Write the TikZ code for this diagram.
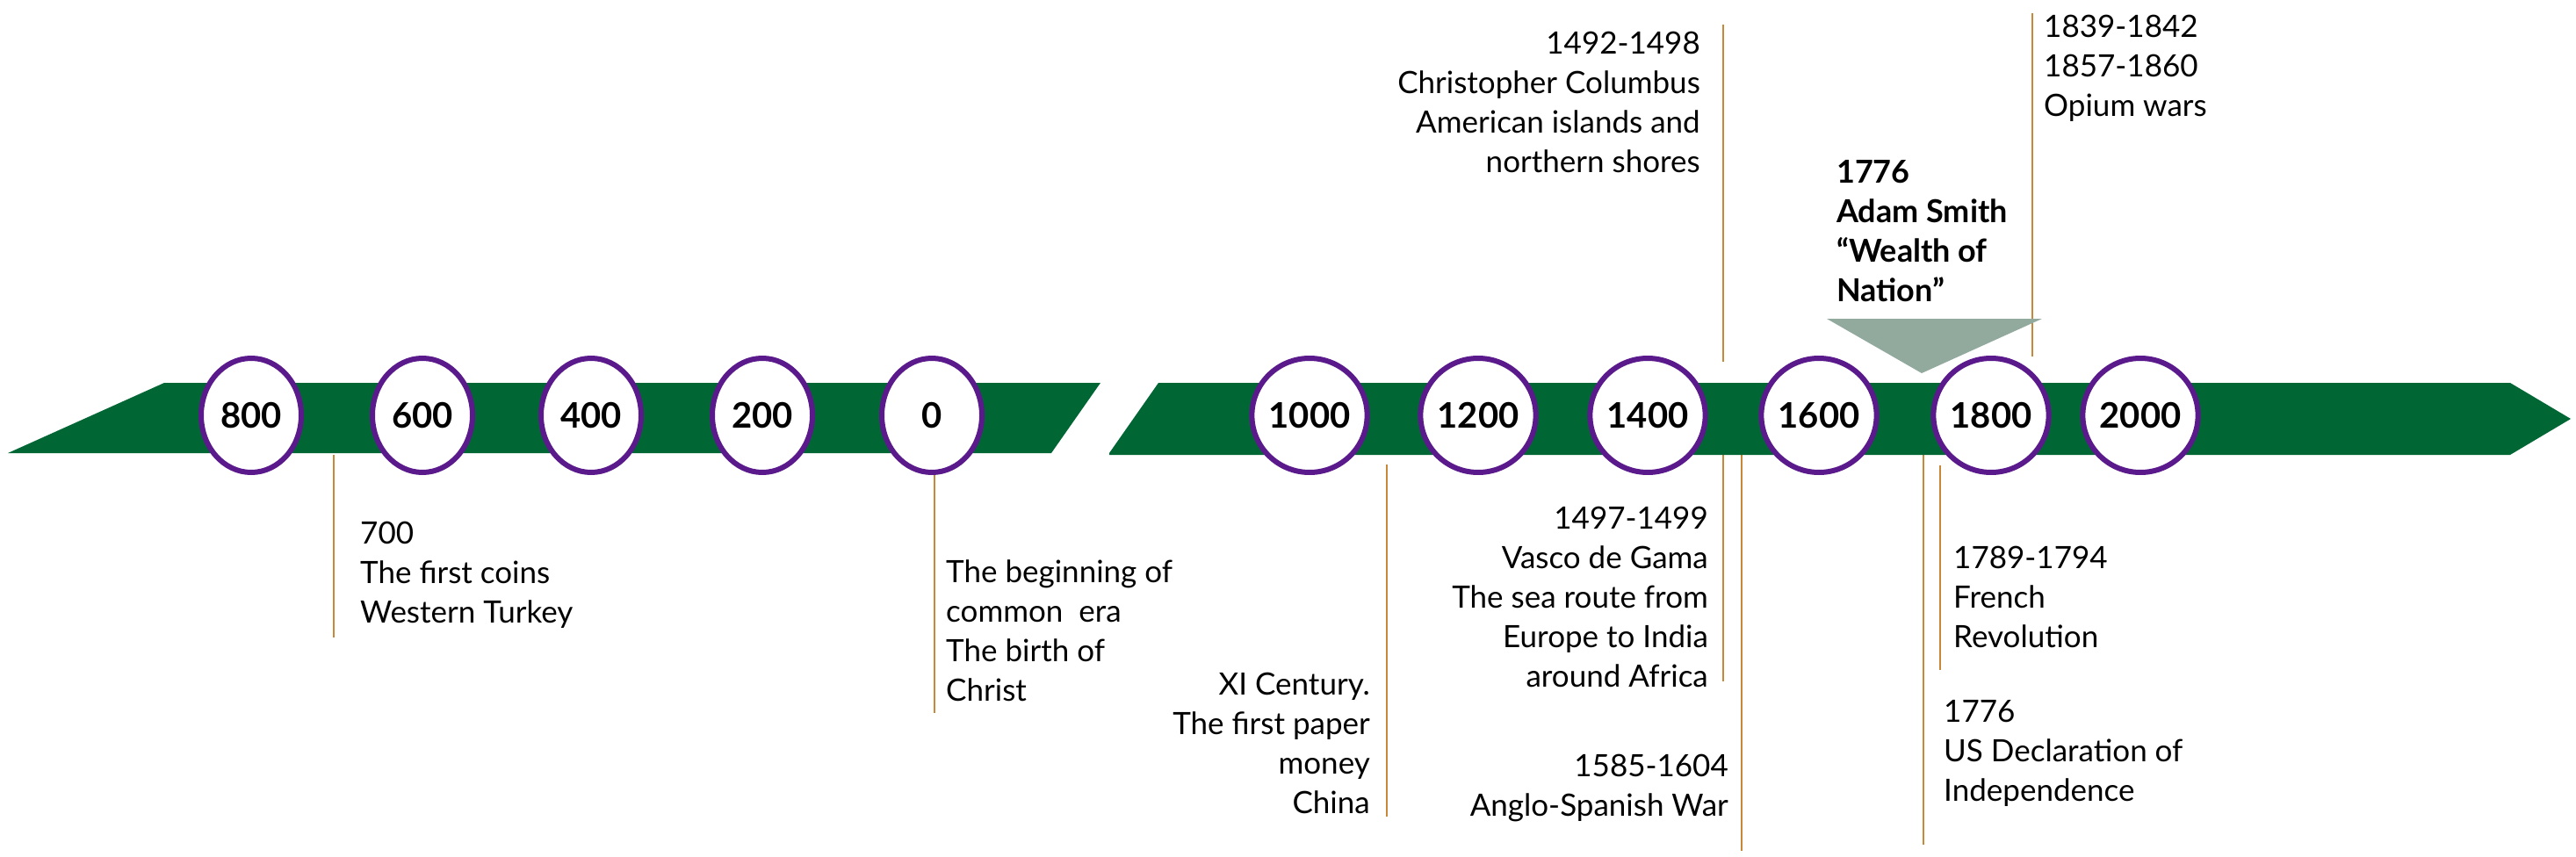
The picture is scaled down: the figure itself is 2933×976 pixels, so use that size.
\documentclass[tikz,border=0pt]{standalone}
\usepackage{fontspec}
\setmainfont{Lato}
\definecolor{band}{HTML}{006633}
\definecolor{ring}{HTML}{5B1A8C}
\definecolor{tick}{HTML}{C8883A}
\definecolor{tri}{HTML}{92A99E}
\begin{document}
\begin{tikzpicture}[x=1pt,y=-1pt,
  yr/.style={ellipse,draw=ring,line width=6pt,fill=white,minimum width=114pt,minimum height=130pt,inner sep=0,font=\fontsize{40}{44}\selectfont\bfseries},
  lbl/.style={inner sep=0,font=\fontsize{35}{45}\selectfont},
  tk/.style={draw=tick,line width=2pt}]
\useasboundingbox (0,0) rectangle (2933,976);
\usetikzlibrary{shapes.geometric}
% ticks
\coordinate (a1) at (380,518); \coordinate (a2) at (380,726);
\coordinate (b1) at (1064,530); \coordinate (b2) at (1064,812);
\coordinate (c1) at (1579,529); \coordinate (c2) at (1579,930);
\coordinate (d1) at (1962,28); \coordinate (d2) at (1962,412);
\coordinate (e1) at (1962,518); \coordinate (e2) at (1962,776);
\coordinate (f1) at (1983,518); \coordinate (f2) at (1983,969);
\coordinate (g1) at (2314,15); \coordinate (g2) at (2314,406);
\coordinate (h1) at (2209,530); \coordinate (h2) at (2209,763);
\coordinate (i1) at (2190,518); \coordinate (i2) at (2190,962);
\foreach \p in {a,b,c,d,e,f,g,h,i} \draw[tk] (\p1) -- (\p2);
% bands
\fill[band] (9,516) -- (187,436) -- (1253,436) -- (1197,516) -- cycle;
\fill[band] (1263,516) -- (1319,436) -- (2858,436) -- (2927,477) -- (2858,518) -- (1263,518) -- cycle;
\fill[tri] (2080,363) -- (2325,363) -- (2188,425) -- cycle;
% circles
\foreach \n/\x in {800/286,600/481,400/673,200/868,0/1061,1000/1491,1200/1683,1400/1876,1600/2071,1800/2267,2000/2437}
  \node[yr] (y\n) at (\x,473) {\n};
% texts
\node[lbl,anchor=north west,align=left] (t700) at (410,594) {700\\The first coins\\Western Turkey};
\node[lbl,anchor=north west,align=left] (t0) at (1077,638) {The beginning of\\common\ \ era\\The birth of\\Christ};
\node[lbl,anchor=north east,align=right] (t11) at (1560,766) {XI Century.\\The first paper\\money\\China};
\node[lbl,anchor=north east,align=right] (t1492) at (1936,36) {1492-1498\\Christopher Columbus\\American islands and\\northern shores};
\node[lbl,anchor=north east,align=right] (t1497) at (1945,577) {1497-1499\\Vasco de Gama\\The sea route from\\Europe to India\\around Africa};
\node[lbl,anchor=north east,align=right] (t1585) at (1968,859) {1585-1604\\Anglo-Spanish War};
\node[lbl,anchor=north west,align=left] (t1839) at (2327,17) {1839-1842\\1857-1860\\Opium wars};
\node[lbl,anchor=north west,align=left] (t1789) at (2224,622) {1789-1794\\French\\Revolution};
\node[lbl,anchor=north west,align=left] (t1776) at (2213,797) {1776\\US Declaration of\\Independence};
\node[lbl,anchor=north west,align=left,font=\fontsize{36}{45}\selectfont\bfseries] (tas) at (2091,182) {1776\\Adam Smith\\“Wealth of\\Nation”};
\end{tikzpicture}
\end{document}
